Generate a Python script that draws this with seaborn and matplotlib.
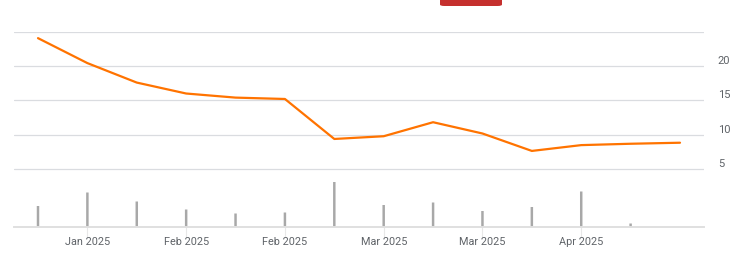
import matplotlib
matplotlib.use("Agg")
import matplotlib.pyplot as plt
from matplotlib.transforms import ScaledTranslation
from matplotlib.patches import FancyBboxPatch
import seaborn as sns
import numpy as np
import pandas as pd

# ---- data ----
price = [24.1, 20.45, 17.6, 16.0, 15.4, 15.2, 9.35, 9.75, 11.8, 10.15, 7.6, 8.45, 8.65, 8.8]
volume = [2.1, 3.45, 2.55, 1.75, 1.35, 1.45, 4.5, 2.2, 2.45, 1.6, 2.0, 3.55, 0.35, 0.0]
tick_idx = [1, 3, 5, 7, 9, 11]
tick_labels = ["Jan 2025", "Feb 2025", "Feb 2025", "Mar 2025", "Mar 2025", "Apr 2025"]
y_gridlines = [5, 10, 15, 20, 25]
y_labels = [5, 10, 15, 20]

df = pd.DataFrame({"i": np.arange(len(price)), "price": price, "volume": volume})

sns.set_theme(style="white")
plt.rcParams["font.family"] = ["Roboto", "DejaVu Sans"]

W, H = 749, 254
fig = plt.figure(figsize=(W / 100, H / 100), dpi=100)
left, right, top, bottom = 14, 704, 32, 227
ax = fig.add_axes([left / W, 1 - bottom / H, (right - left) / W, (bottom - top) / H])
ax2 = ax.twinx()
ax.set_zorder(ax2.get_zorder() + 1)
ax.patch.set_visible(False)

# volume bars
bars = ax2.bar(df["i"], df["volume"], width=0.05, color="#a8a8a8", linewidth=0, zorder=2)
for b in bars:
    b.set_snap(False)
ax2.set_ylim(0, 19.5)
ax2.set_yticks([])
for s in ax2.spines.values():
    s.set_visible(False)

# price line
sns.lineplot(data=df, x="i", y="price", ax=ax, color="#ff7300", linewidth=1.6, zorder=3)
ax.set_ylim(-3.53, 25)
ax.set_xlim(-0.486, len(price) - 1 + 0.486)
for g in y_gridlines:
    ax.axhline(g, color="#dadce0", linewidth=0.9, zorder=1)

ax.set_xlabel("")
ax.set_ylabel("")
for s in ["top", "left", "right"]:
    ax.spines[s].set_visible(False)
ax.spines["bottom"].set_color("#e0e0e0")
ax.spines["bottom"].set_linewidth(1.4)

ax.set_xticks(tick_idx)
ax.set_xticklabels(tick_labels, fontsize=7.8, color="#5f6368")
ax.tick_params(axis="x", length=7, width=0.8, color="#e8e8e8", pad=0.5, bottom=True)

ax.yaxis.tick_right()
ax.set_yticks(y_labels)
ax.set_yticklabels([str(v) for v in y_labels], fontsize=8, color="#5f6368")
ax.tick_params(axis="y", length=0, pad=10)
off = ScaledTranslation(0, 6 / 100, fig.dpi_scale_trans)
for lab in ax.get_yticklabels():
    lab.set_transform(lab.get_transform() + off)
    lab.set_horizontalalignment("left")

# red button cropped at top
btn = FancyBboxPatch((440 / W, 1 - 6 / H), 62 / W, 12 / H,
                     boxstyle="round,pad=0,rounding_size=0.006",
                     transform=fig.transFigure, facecolor="#c5302e",
                     edgecolor="none", clip_on=False)
fig.patches.append(btn)

fig.savefig("out.png", dpi=100)
